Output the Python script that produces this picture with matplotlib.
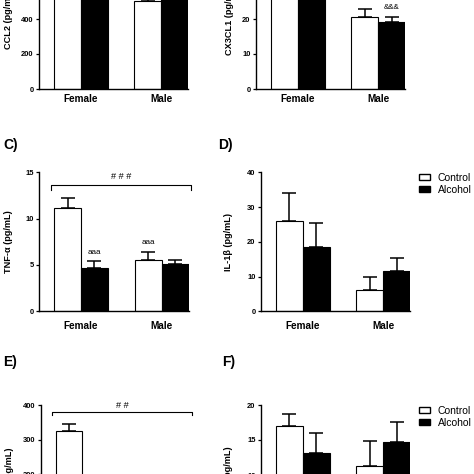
import matplotlib
matplotlib.use("Agg")
import matplotlib.pyplot as plt
from matplotlib.patches import Patch

plt.rcParams['font.family'] = ['Liberation Sans', 'DejaVu Sans']

groups = ["Female", "Male"]
series = ["Control", "Alcohol"]

# mean values per group: [female, male]
ccl2_ctrl = [640, 500]
ccl2_alc = [700, 600]
ccl2_ctrl_err = [60, 60]
ccl2_alc_err = [70, 50]

cx3cl1_ctrl = [30, 20.5]
cx3cl1_alc = [32, 19.1]
cx3cl1_ctrl_err = [3, 2.4]
cx3cl1_alc_err = [3, 1.4]

tnf_ctrl = [11.2, 5.5]
tnf_alc = [4.7, 5.1]
tnf_ctrl_err = [1.0, 0.9]
tnf_alc_err = [0.7, 0.4]

il1b_ctrl = [26.1, 6.1]
il1b_alc = [18.6, 11.7]
il1b_ctrl_err = [7.8, 3.8]
il1b_alc_err = [6.9, 3.6]

e_ctrl = [325, 150]
e_alc = [110, 140]
e_ctrl_err = [21, 20]
e_alc_err = [15, 20]

f_ctrl = [17.05, 11.3]
f_alc = [13.1, 14.7]
f_ctrl_err = [1.6, 3.55]
f_alc_err = [2.9, 2.9]

W = 474.0


def px_axes(fig, left, top, right, bottom):
    return fig.add_axes([left / W, 1 - bottom / W, (right - left) / W, (bottom - top) / W])


def bar_panel(ax, ctrl, alc, ctrl_err, alc_err, ymax, step, ylabel, lab_x, xpad):
    pos_c = [0, 3]
    pos_a = [1, 4]
    ekw = dict(elinewidth=1.1, capthick=1.1, capsize=5.2, ecolor="black")
    ax.bar(pos_c, ctrl, width=1, color="white", edgecolor="black", linewidth=0.8,
           zorder=2)
    ax.bar(pos_a, alc, width=1, color="black", edgecolor="black", linewidth=0.8,
           zorder=2)
    ax.errorbar(pos_c, ctrl, yerr=[[0, 0], ctrl_err], fmt="none", zorder=1, **ekw)
    ax.errorbar(pos_a, alc, yerr=[[0, 0], alc_err], fmt="none", zorder=1, **ekw)
    ax.set_xlim(-1.06, 4.5)
    ax.set_ylim(0, ymax)
    ax.set_yticks(list(range(0, ymax + 1, step)))
    ax.set_xticks([0.5, 3.5])
    ax.set_xticklabels(groups, fontsize=7.2, fontweight="bold")
    ax.tick_params(axis="x", length=0, pad=xpad)
    ax.tick_params(axis="y", length=2.4, width=0.9, labelsize=5.4, pad=1.5)
    for t in ax.get_yticklabels():
        t.set_fontweight("bold")
    for s in ["top", "right"]:
        ax.spines[s].set_visible(False)
    for s in ["left", "bottom"]:
        ax.spines[s].set_linewidth(1.0)
    ax.set_ylabel(ylabel, fontsize=6.6, fontweight="bold")
    ax.yaxis.set_label_coords(lab_x, 0.5)


def bracket(ax, x0, x1, y, drop, label, ty):
    ax.plot([x0, x0, x1, x1], [y - drop, y, y, y - drop], color="black", lw=0.8,
            clip_on=False)
    ax.text((x0 + x1) / 2, ty, label, ha="center", va="center", fontsize=6.6,
            clip_on=False)


def legend(ax):
    handles = [Patch(facecolor="white", edgecolor="black", linewidth=1.0),
               Patch(facecolor="black", edgecolor="black")]
    ax.legend(handles, series, loc="upper left", bbox_to_anchor=(1.06, 0.995),
              frameon=False, fontsize=7.5, handlelength=1.05, handleheight=0.5,
              handletextpad=0.75, labelspacing=0.2, borderaxespad=0, borderpad=0)


fig = plt.figure(figsize=(4.74, 4.74), dpi=100)

ax_a = px_axes(fig, 39, -51, 188, 89)
bar_panel(ax_a, ccl2_ctrl, ccl2_alc, ccl2_ctrl_err, ccl2_alc_err, 800, 200,
          "CCL2 (pg/mL)", -0.175, 3.5)

ax_b = px_axes(fig, 256, -51, 405, 89)
bar_panel(ax_b, cx3cl1_ctrl, cx3cl1_alc, cx3cl1_ctrl_err, cx3cl1_alc_err, 40, 10,
          "CX3CL1 (pg/mL)", -0.15, 3.5)
ax_b.text(4, 23.4, "&&&", ha="center", va="center", fontsize=5.8)

ax_c = px_axes(fig, 39, 172.3, 188.5, 311.3)
bar_panel(ax_c, tnf_ctrl, tnf_alc, tnf_ctrl_err, tnf_alc_err, 15, 5,
          "TNF-α (pg/mL)", -0.175, 7)
ax_c.text(1, 6.3, "aaa", ha="center", va="center", fontsize=5.8)
ax_c.text(3, 7.4, "aaa", ha="center", va="center", fontsize=5.8)
bracket(ax_c, -0.6, 4.6, 13.6, 0.5, "# # #", 14.5)

ax_d = px_axes(fig, 261, 172.3, 410, 311.3)
bar_panel(ax_d, il1b_ctrl, il1b_alc, il1b_ctrl_err, il1b_alc_err, 40, 10,
          "IL-1β (pg/mL)", -0.19, 7)
legend(ax_d)

ax_e = px_axes(fig, 40.5, 405, 190, 543.5)
bar_panel(ax_e, e_ctrl, e_alc, e_ctrl_err, e_alc_err, 400, 100,
          "IL-6 (pg/mL)", -0.175, 7)
bracket(ax_e, -0.62, 4.58, 379, 8, "# #", 400)

ax_f = px_axes(fig, 261, 405, 410, 545)
bar_panel(ax_f, f_ctrl, f_alc, f_ctrl_err, f_alc_err, 20, 5,
          "IL-10 (pg/mL)", -0.19, 7)
legend(ax_f)

for lab, x, y in [("C)", 3, 145), ("D)", 218, 145), ("E)", 3, 362), ("F)", 222, 362)]:
    fig.text(x / W, 1 - y / W, lab, fontsize=10, fontweight="bold", ha="left",
             va="center")

fig.savefig("out.png", dpi=100)
